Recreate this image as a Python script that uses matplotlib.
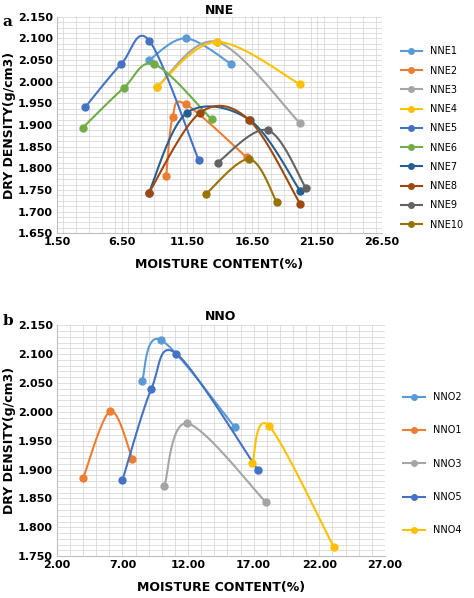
import numpy as np
import matplotlib
matplotlib.use("Agg")
import matplotlib.pyplot as plt
from matplotlib.ticker import MultipleLocator

nne_names = ["NNE1","NNE2","NNE3","NNE4","NNE5","NNE6","NNE7","NNE8","NNE9","NNE10"]
nne_x = [[8.6,11.4,14.9],[9.9,10.4,11.4,16.1],[9.2,13.8,20.2],[9.2,13.8,20.2],
         [3.7,6.45,8.6,12.4],[3.5,6.65,9.0,13.4],[8.55,11.5,16.35,20.2],
         [8.55,12.5,16.3,20.2],[13.85,17.7,20.65],[12.97,16.3,18.4]]
nne_y = [[2.050,2.100,2.041],[1.782,1.919,1.948,1.825],[1.988,2.092,1.904],[1.988,2.092,1.994],
         [1.942,2.041,2.095,1.819],[1.894,1.986,2.040,1.913],[1.742,1.928,1.911,1.748],
         [1.742,1.928,1.911,1.718],[1.813,1.888,1.754],[1.741,1.821,1.722]]
nne_colors = ["#5B9BD5","#ED7D31","#A5A5A5","#FFC000","#4472C4","#70AD47","#255E91","#9E480E","#636363","#997300"]

nno_names = ["NNO2","NNO1","NNO3","NNO5","NNO4"]
nno_x = [[8.5,9.9,15.55],[4.0,6.07,7.75],[10.2,11.95,17.95],[7.0,9.2,11.1,17.3],[16.9,18.15,23.1]]
nno_y = [[2.054,2.125,1.974],[1.885,2.001,1.919],[1.872,1.980,1.843],[1.882,2.040,2.101,1.900],[1.911,1.976,1.766]]
nno_colors = ["#5B9BD5","#ED7D31","#A5A5A5","#4472C4","#FFC000"]

def smooth(x, y, n=40, t=0.5):
    x = np.asarray(x, float); y = np.asarray(y, float)
    P = np.column_stack([x, y])
    P = np.vstack([P[0], P, P[-1]])
    out = []
    s = np.linspace(0, 1, n)
    for i in range(1, len(P) - 2):
        p0, p1, p2, p3 = P[i-1], P[i], P[i+1], P[i+2]
        m1 = (p2 - p0) * t; m2 = (p3 - p1) * t
        h00 = 2*s**3 - 3*s**2 + 1; h10 = s**3 - 2*s**2 + s
        h01 = -2*s**3 + 3*s**2; h11 = s**3 - s**2
        seg = h00[:, None]*p1 + h10[:, None]*m1 + h01[:, None]*p2 + h11[:, None]*m2
        out.append(seg)
    c = np.vstack(out)
    return c[:, 0], c[:, 1]

fig = plt.figure(figsize=(4.74, 5.98), dpi=100)

def style(ax):
    ax.grid(True, which="both", color="#D9D9D9", lw=0.6)
    ax.set_axisbelow(True)
    for s in ["top", "right"]:
        ax.spines[s].set_visible(False)
    for s in ["left", "bottom"]:
        ax.spines[s].set_color("#BFBFBF")
    ax.tick_params(which="both", length=0, labelsize=8, pad=3)
    for lab in ax.get_xticklabels() + ax.get_yticklabels():
        lab.set_fontweight("bold")

ax1 = fig.add_axes([0.12, 0.61, 0.686, 0.362])
for nm, xs, ys, c in zip(nne_names, nne_x, nne_y, nne_colors):
    sx, sy = smooth(xs, ys)
    ax1.plot(sx, sy, color=c, lw=1.5)
    ax1.plot(xs, ys, "o", color=c, ms=5)
    ax1.plot([], [], "-o", color=c, ms=4, lw=1.5, label=nm)
ax1.set_xlim(1.5, 26.5); ax1.set_ylim(1.65, 2.15)
ax1.set_xticks(np.arange(1.5, 26.6, 5)); ax1.xaxis.set_minor_locator(MultipleLocator(1))
ax1.set_yticks(np.arange(1.65, 2.151, 0.05)); ax1.yaxis.set_minor_locator(MultipleLocator(0.0125))
ax1.set_xticklabels([f"{v:.2f}" for v in np.arange(1.5, 26.6, 5)])
ax1.set_yticklabels([f"{v:.3f}" for v in np.arange(1.65, 2.151, 0.05)])
style(ax1)
ax1.set_title("NNE", fontsize=9, fontweight="bold", pad=2)
ax1.set_xlabel("MOISTURE CONTENT(%)", fontsize=9, fontweight="bold", labelpad=8)
ax1.set_ylabel("DRY DENSITY(g/cm3)", fontsize=9, fontweight="bold", labelpad=1)
ax1.legend(loc="center left", bbox_to_anchor=(1.03, 0.44), frameon=False, fontsize=7,
           labelspacing=0.95, handlelength=2.2)
fig.text(0.005, 0.975, "a", fontsize=11, fontweight="bold", family="DejaVu Serif", va="top")

ax2 = fig.add_axes([0.12, 0.07, 0.692, 0.386])
for nm, xs, ys, c in zip(nno_names, nno_x, nno_y, nno_colors):
    sx, sy = smooth(xs, ys)
    ax2.plot(sx, sy, color=c, lw=1.5)
    ax2.plot(xs, ys, "o", color=c, ms=5)
    ax2.plot([], [], "-o", color=c, ms=4, lw=1.5, label=nm)
ax2.set_xlim(2, 27); ax2.set_ylim(1.75, 2.15)
ax2.set_xticks(np.arange(2, 27.1, 5)); ax2.xaxis.set_minor_locator(MultipleLocator(1))
ax2.set_yticks(np.arange(1.75, 2.151, 0.05)); ax2.yaxis.set_minor_locator(MultipleLocator(0.01))
ax2.set_xticklabels([f"{v:.2f}" for v in np.arange(2, 27.1, 5)])
ax2.set_yticklabels([f"{v:.3f}" for v in np.arange(1.75, 2.151, 0.05)])
style(ax2)
ax2.set_title("NNO", fontsize=9, fontweight="bold", pad=4)
ax2.set_xlabel("MOISTURE CONTENT(%)", fontsize=9, fontweight="bold", labelpad=8)
ax2.set_ylabel("DRY DENSITY(g/cm3)", fontsize=9, fontweight="bold", labelpad=1)
ax2.legend(loc="center left", bbox_to_anchor=(1.03, 0.4), frameon=False, fontsize=7,
           labelspacing=2.4, handlelength=2.2)
fig.text(0.005, 0.475, "b", fontsize=11, fontweight="bold", family="DejaVu Serif", va="top")

fig.savefig("out.png", dpi=100)
